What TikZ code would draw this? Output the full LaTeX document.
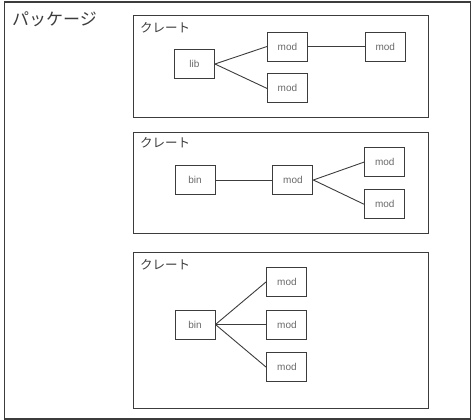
\documentclass[tikz,border=0pt]{standalone}
\usepackage{fontspec}
\setmainfont{Liberation Sans}
\newfontfamily\jpfont{Noto Sans CJK JP}
\usetikzlibrary{positioning}
\definecolor{framegray}{RGB}{60,60,60}
\definecolor{labelgray}{RGB}{105,105,105}

\begin{document}
\begin{tikzpicture}[
  x=1pt, y=-1pt,
  node distance=13pt and 52pt,
  package/.style={draw=framegray, line width=1.6pt, anchor=north west,
    minimum width=466pt, minimum height=417pt, inner sep=0pt},
  crate/.style={draw=framegray, line width=0.9pt, anchor=north west,
    minimum width=295pt, inner sep=0pt},
  mod/.style={draw=framegray, line width=0.9pt, minimum width=40pt,
    minimum height=29pt, inner sep=0pt, text=labelgray,
    font=\fontsize{10}{12}\selectfont},
  title/.style={anchor=west, inner sep=0pt, text=framegray,
    font=\jpfont\fontsize{12.5}{14}\selectfont},
  link/.style={draw=framegray, line width=0.9pt}
]
\useasboundingbox (0,0) rectangle (474,420);
\node[package] (pkg) at (3.5,1) {};
\node[title, font=\jpfont\fontsize{17}{20}\selectfont] (pkgtitle) at (12,19) {パッケージ};

% crate with lib
\node[crate, minimum height=102pt] (crateA) at (133,15) {};
\node[title] (crateAtitle) at (140,28) {クレート};
\node[mod] (lib) at (194.5,64) {lib};
\node[mod, right=52pt of lib, yshift=17.5pt] (modA) {mod};
\node[mod, below=12pt of modA] (modB) {mod};
\node[mod, right=57pt of modA] (modC) {mod};
\draw[link] (lib.east) -- (modA.west);
\draw[link] (lib.east) -- (modB.west);
\draw[link] (modA) -- (modC);

% crate with bin and nested mods
\node[crate, minimum height=101pt] (crateB) at (133,132) {};
\node[title] (crateBtitle) at (140,143) {クレート};
\node[mod] (binA) at (195,180) {bin};
\node[mod, right=57pt of binA] (modD) {mod};
\node[mod, right=51pt of modD, yshift=18pt] (modE) {mod};
\node[mod, below=12.5pt of modE] (modF) {mod};
\draw[link] (binA) -- (modD);
\draw[link] (modD.east) -- (modE.west);
\draw[link] (modD.east) -- (modF.west);

% crate with bin and three mods
\node[crate, minimum height=156pt] (crateC) at (133,252) {};
\node[title] (crateCtitle) at (140,265) {クレート};
\node[mod] (binB) at (195,324.5) {bin};
\node[mod, right=51pt of binB] (modH) {mod};
\node[mod, above=of modH] (modG) {mod};
\node[mod, below=of modH] (modI) {mod};
\draw[link] (binB.east) -- (modG.west);
\draw[link] (binB.east) -- (modH.west);
\draw[link] (binB.east) -- (modI.west);
\end{tikzpicture}
\end{document}
